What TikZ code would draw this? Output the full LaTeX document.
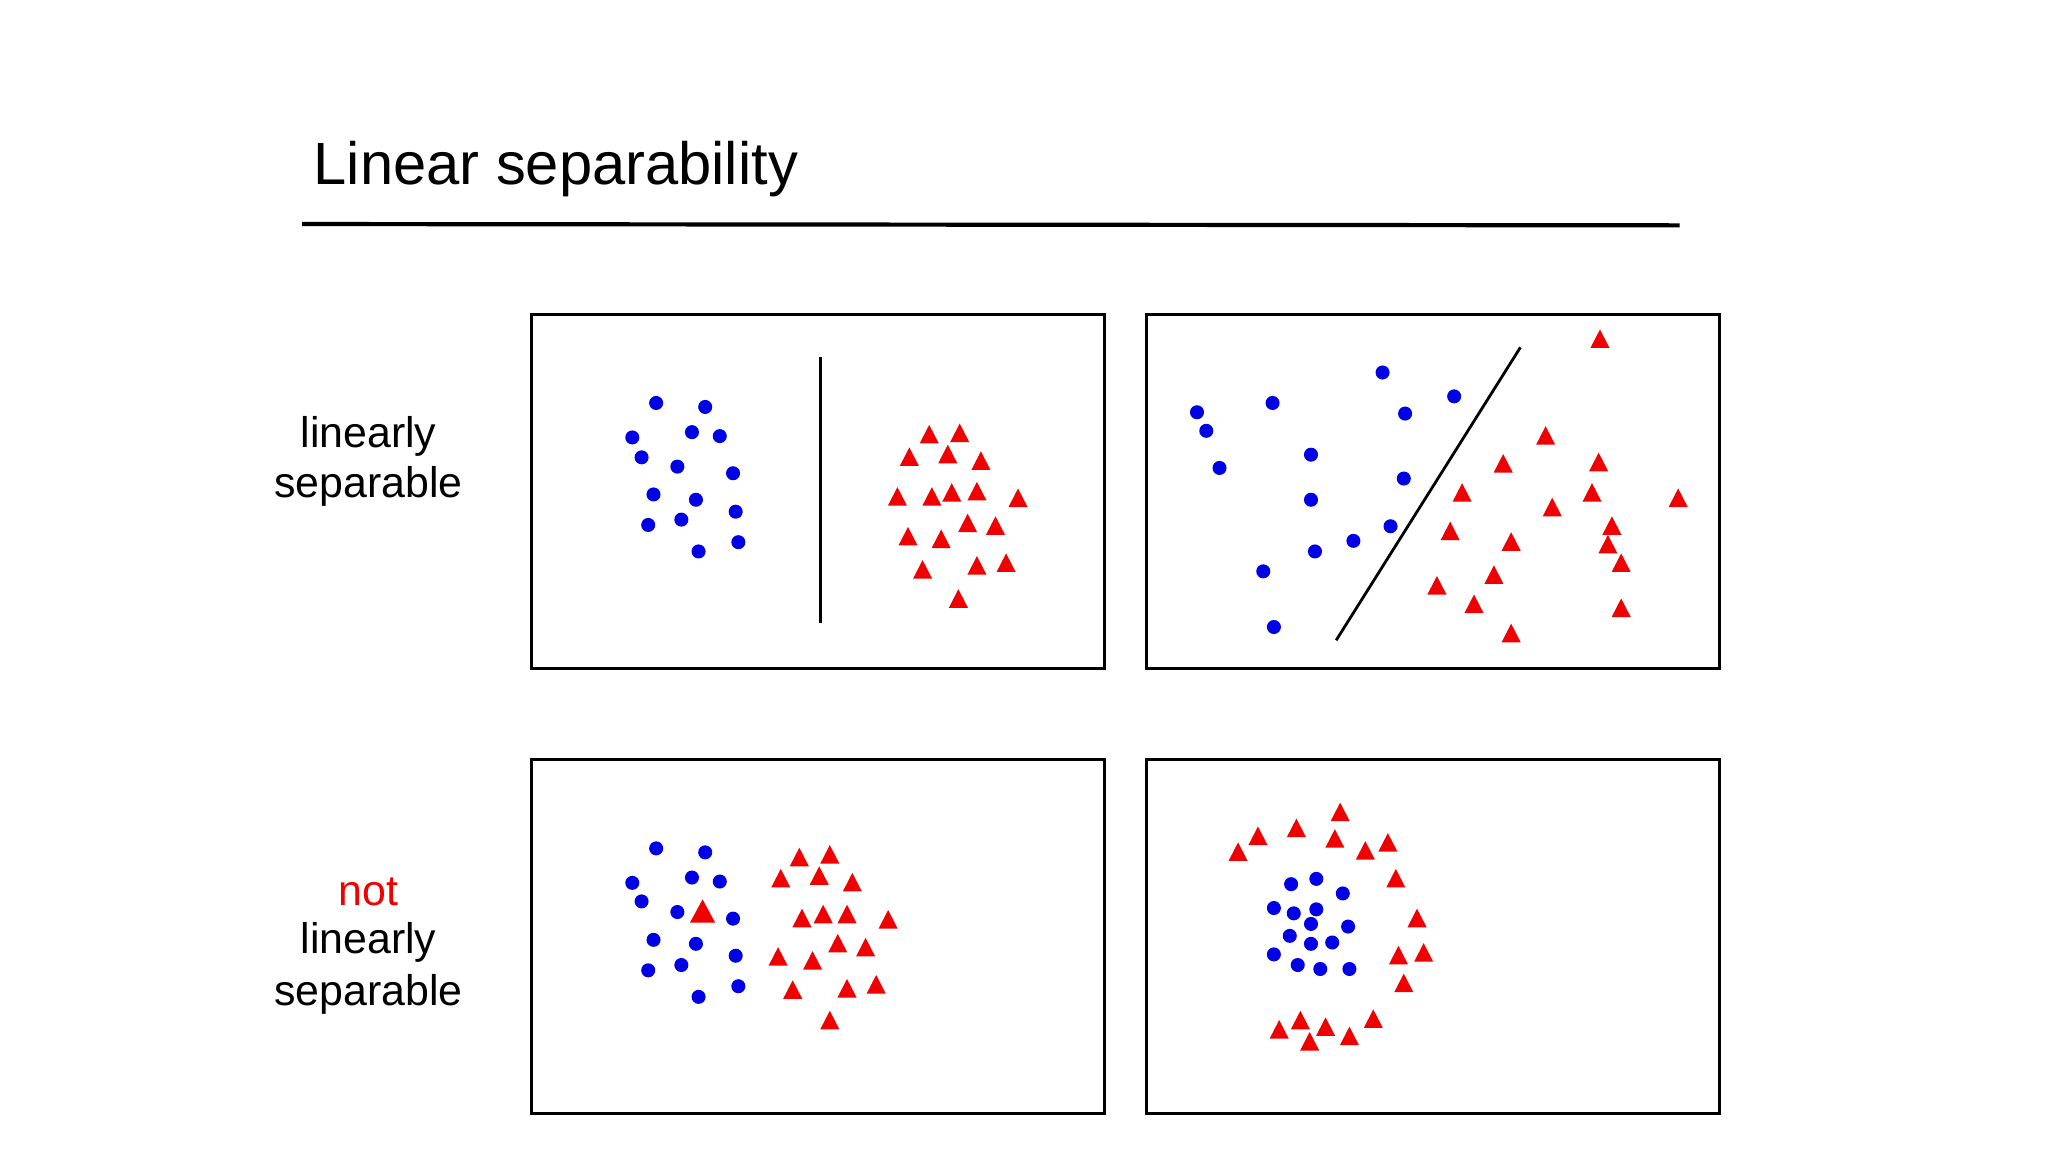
\documentclass[tikz,border=0pt]{standalone}
\usepackage{fontspec}
\setmainfont{Liberation Sans}
\definecolor{dblue}{RGB}{0,0,230}
\definecolor{dred}{RGB}{240,0,0}
\begin{document}
\begin{tikzpicture}[x=0.01cm,y=-0.01cm,
  panel/.style={draw=black,line width=0.6pt},
  dot/.style={fill=dblue},
  tri/.style={fill=dred},
  lbl/.style={font=\fontsize{9.2}{11}\selectfont,inner sep=0pt}]
\useasboundingbox (0,0) rectangle (1545,869);
\node[anchor=base west,inner sep=0pt,font=\fontsize{12.8}{15}\selectfont] (title) at (236,139) {Linear separability};
\draw[line width=0.9pt] (228,169) -- (1267,170);
\node[lbl] (l1) at (278,329) {linearly};
\node[lbl] (l2) at (278,367) {separable};
\node[lbl,text=dred] (l3) at (278,673) {not};
\node[lbl] (l4) at (278,711) {linearly};
\node[lbl] (l5) at (278,750) {separable};
\draw[panel] (401,237) rectangle (833,504);
\draw[panel] (865,237) rectangle (1297,504);
\draw[panel] (401,573) rectangle (833,840);
\draw[panel] (865,573) rectangle (1297,840);
\draw[line width=0.6pt] (619,269) -- (619,470);
\draw[line width=0.6pt] (1008,483) -- (1147,262);
% blue dots
\foreach \p in {(495,304),(532,307),(477,330),(522,326),(543,329),(484,345),(511,352),(553,357),(493,373),(525,377),(555,386),(489,396),(514,392),(557,409),(527,416),
(903,311),(910,325),(960,304),(920,353),(1043,281),(1060,312),(1097,299),(989,343),(1059,361),(989,377),(1021,408),(1049,397),(992,416),(953,431),(961,473),
(495,640),(532,643),(477,666),(522,662),(543,665),(484,680),(511,688),(553,693),(493,709),(525,712),(555,721),(489,732),(514,728),(557,744),(527,752),
(974,667),(993,663),(1013,674),(961,685),(976,689),(993,686),(989,697),(1017,699),(973,706),(989,712),(1005,711),(961,720),(979,728),(996,731),(1018,731)}
  \fill[dot] \p circle[radius=5.3];
% red triangles
\foreach \x/\y in {701/328,724/327,686/345,715/343,740/348,677/375,703/375,718/372,737/371,768/376,685/405,710/407,730/395,751/397,696/430,737/427,759/425,723/452,
1207/256,1166/329,1134/350,1206/349,1103/372,1201/372,1171/383,1266/376,1094/401,1216/397,1140/409,1213/411,1223/425,1127/434,1084/442,1112/456,1223/459,1140/478,
603/647,626/645,589/663,618/661,643/666,605/693,621/690,639/690,670/694,587/722,613/725,632/712,653/715,598/747,639/746,661/743,626/770,
1011/613,949/631,978/625,934/643,1007/633,1030/642,1047/636,1053/663,1069/693,1055/721,1074/719,1059/742,965/777,981/770,1000/775,988/786,1018/782,1036/769}
  \fill[tri] (\x-7.2,\y+6.5) -- (\x+7.2,\y+6.5) -- (\x,\y-7.5) -- cycle;
\fill[tri] (530-9.5,688+8) -- (530+9.5,688+8) -- (530,688-9.5) -- cycle;
\end{tikzpicture}
\end{document}
